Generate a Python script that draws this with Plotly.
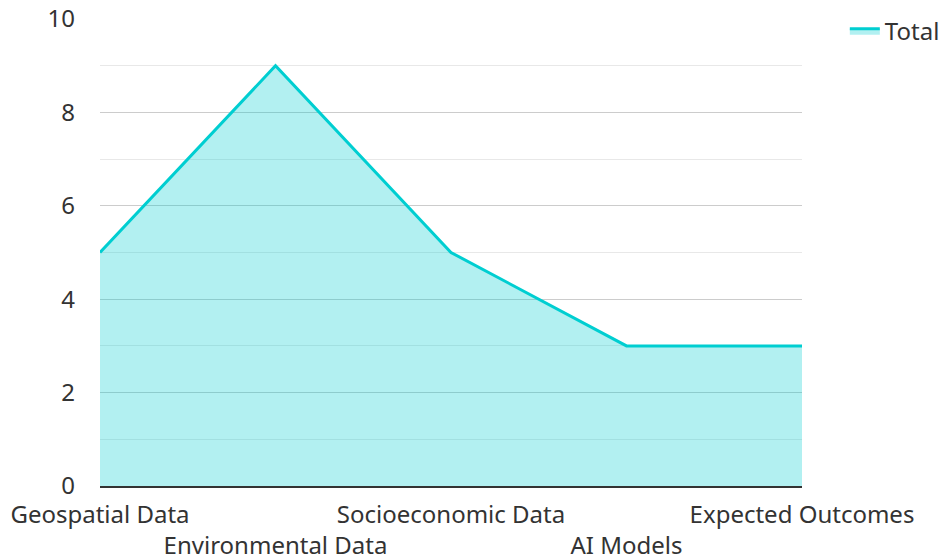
import plotly.graph_objects as go

categories = ["Geospatial Data", "Environmental Data", "Socioeconomic Data", "AI Models", "Expected Outcomes"]
totals = [5, 9, 5, 3, 3]
y_ticks = [0, 2, 4, 6, 8, 10]

# alternate labels drop to a second row so neighbours don't collide
tick_text = [c if i % 2 == 0 else "<br>" + c for i, c in enumerate(categories)]

FONT = dict(family="Noto Sans", size=24, color="#333333")

fig = go.Figure()
fig.add_trace(go.Scatter(
    x=list(range(len(categories))),
    y=totals,
    name="Total",
    mode="lines",
    line=dict(color="#00CED1", width=3),
    fill="tozeroy",
    fillcolor="rgba(0,206,209,0.3)",
))

fig.update_layout(
    width=943,
    height=560,
    margin=dict(l=100, r=141, t=19, b=74, autoexpand=False),
    paper_bgcolor="white",
    plot_bgcolor="white",
    font=FONT,
    showlegend=True,
    legend=dict(x=1.061, y=1.022, xanchor="left", yanchor="top",
                font=FONT, bgcolor="rgba(0,0,0,0)",
                borderwidth=0),
)

fig.update_xaxes(
    range=[0, len(categories) - 1],
    tickmode="array",
    tickvals=list(range(len(categories))),
    ticktext=tick_text,
    tickangle=0,
    automargin=False,
    showgrid=False,
    showline=True,
    linecolor="#333333",
    linewidth=2,
    ticks="",
    ticklabelstandoff=6,
    zeroline=False,
    tickfont=FONT,
)

fig.update_yaxes(
    range=[0, 10],
    tickmode="array",
    tickvals=y_ticks,
    automargin=False,
    showgrid=True,
    gridcolor="#cccccc",
    gridwidth=1,
    minor=dict(dtick=1, showgrid=True, gridcolor="#e8e8e8", gridwidth=1),
    showline=False,
    zeroline=False,
    ticks="",
    ticklabelstandoff=24,
    tickfont=FONT,
)

fig.write_html("out.html")
